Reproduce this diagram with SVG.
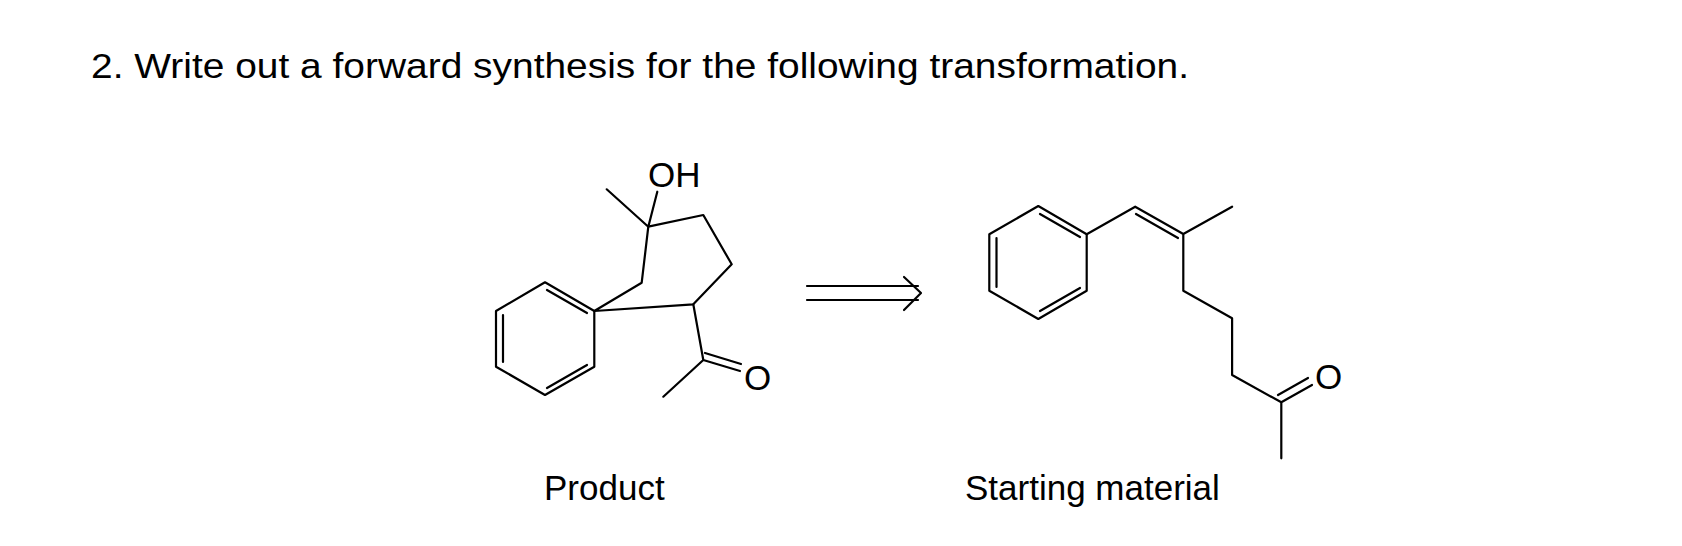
<svg xmlns="http://www.w3.org/2000/svg" width="1682" height="546" viewBox="0 0 1682 546">
<style>
.b{stroke:#000;stroke-width:2.2;fill:none;stroke-linecap:round;stroke-linejoin:round}
.t{font-family:"Liberation Sans",Arial,sans-serif;fill:#000}
</style>
<rect width="1682" height="546" fill="#fff"/>
<text class="t" x="91" y="78" font-size="35" textLength="1098" lengthAdjust="spacingAndGlyphs">2.  Write out a forward synthesis for the following transformation.</text>
<g id="product">
<path class="b" d="M545,282.3 L594.3,311 L594.3,366.7 L545,395 L496,366.7 L496,311 Z"/>
<path class="b" d="M547,290 L587,313 M503,315 L503,362 M547,388 L587,365"/>
<path class="b" d="M594.3,311 L641.7,282.7 L648.3,226.7 L703.3,215 L731.7,264.3 L693.3,304.3 Z"/>
<path class="b" d="M648.3,226.7 L606.7,189.3 M648.3,226.7 L657.3,191.7"/>
<path class="b" d="M693.3,304.3 L703.3,360 L663.3,396.7 M703.3,360 L740,371 M705,353 L741,364"/>
<text class="t" x="648" y="187" font-size="35">OH</text>
<text class="t" x="744" y="390" font-size="35">O</text>
</g>
<g id="arrow">
<path class="b" d="M807,286 L918,286 M807,300 L918,300 M904,277 L921,293 L904,310"/>
</g>
<g id="starting">
<path class="b" d="M1038.3,206 L1086.7,234.3 L1086.7,290.7 L1038.3,319 L989.3,290.7 L989.3,234.3 Z"/>
<path class="b" d="M1040,214 L1080,237 M996.5,238 L996.5,287 M1040,311 L1080,288"/>
<path class="b" d="M1086.7,234.3 L1135.2,206.7 L1183.3,234 L1232.1,206.7 M1136,214 L1178,238 M1183.3,234 L1183.3,290.7 L1232.1,318.3 L1232.1,375 L1281.3,402.3 L1281.3,458.3 M1281.3,402.3 L1312,385 M1278,395 L1308,378"/>
<text class="t" x="1315" y="389" font-size="35">O</text>
</g>
<text class="t" x="544" y="500" font-size="35">Product</text>
<text class="t" x="965" y="500" font-size="35">Starting material</text>
</svg>
